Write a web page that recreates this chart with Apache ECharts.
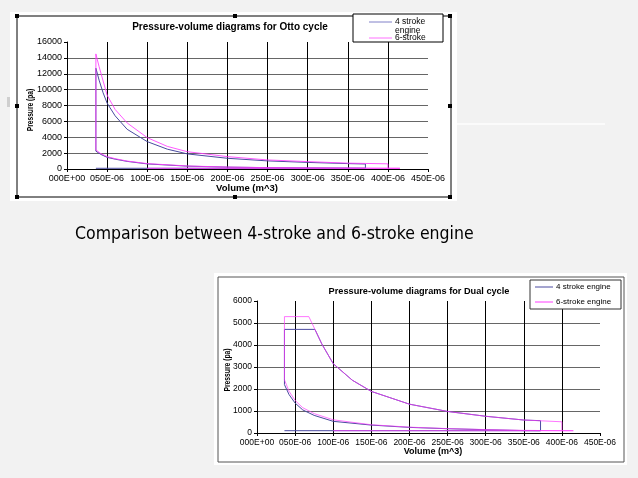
<!DOCTYPE html>
<html>
<head>
<meta charset="utf-8">
<script src="https://cdn.jsdelivr.net/npm/echarts@6/dist/echarts.min.js"></script>
<style>
  html, body { margin: 0; padding: 0; background: #f2f2f2; }
  #main { width: 638px; height: 478px; }
</style>
</head>
<body>
<div id="main"></div>
<script>
// volume in 1E-06 m^3, pressure in pa
const volumeTicks = ['000E+00', '050E-06', '100E-06', '150E-06', '200E-06', '250E-06', '300E-06', '350E-06', '400E-06', '450E-06']
const seriesNames = ['4 stroke engine', '6-stroke engine']

// Otto cycle
const ottoV4 = [36, 372, 350, 300, 250, 200, 150, 100, 75, 60, 50, 42, 36, 36, 40, 45, 50, 60, 75, 100, 125, 150, 200, 250, 300, 350, 372, 372]
const ottoP4 = [90, 90, 105, 130, 170, 235, 360, 640, 960, 1240, 1470, 1850, 2250, 12700, 11200, 9600, 8300, 6700, 5000, 3450, 2500, 1900, 1350, 1020, 830, 680, 630, 90]
const ottoV6 = [100, 415, 400, 350, 300, 250, 200, 150, 100, 75, 60, 50, 42, 36, 36, 40, 45, 50, 60, 75, 100, 125, 150, 200, 250, 300, 350, 400, 400]
const ottoP6 = [90, 90, 90, 110, 135, 175, 245, 380, 680, 1000, 1300, 1560, 1950, 2400, 14500, 12900, 11100, 9300, 7500, 5800, 3950, 2850, 2180, 1560, 1140, 930, 740, 650, 90]

// Dual cycle
const dualV4 = [36, 372, 350, 300, 250, 200, 150, 100, 75, 60, 50, 42, 36, 36, 76, 85, 100, 125, 150, 200, 250, 300, 350, 372, 372]
const dualP4 = [105, 105, 110, 150, 195, 255, 360, 530, 800, 1050, 1360, 1750, 2200, 4710, 4710, 4050, 3150, 2400, 1890, 1310, 980, 760, 590, 560, 105]
const dualV6 = [100, 415, 400, 350, 300, 250, 200, 150, 100, 75, 60, 50, 42, 36, 36, 68, 76, 85, 100, 125, 150, 200, 250, 300, 350, 400, 400]
const dualP6 = [105, 105, 105, 120, 155, 200, 265, 375, 600, 880, 1150, 1480, 1900, 2420, 5290, 5290, 4710, 4050, 3150, 2400, 1890, 1310, 980, 760, 590, 510, 105]

const blue = '#4a4aa0'
const pink = '#ff3cff'
const font = 'Liberation Sans, Arial, sans-serif'

function zip(xs, ys) {
  return xs.map((x, i) => [x, ys[i]])
}

function xAxisFor(gridIndex, fontSize) {
  return {
    type: 'value',
    gridIndex: gridIndex,
    min: 0,
    max: 450,
    interval: 50,
    axisLine: { show: true, lineStyle: { color: '#000', width: 1 } },
    axisTick: { show: true, length: 3, lineStyle: { color: '#000' } },
    axisLabel: {
      color: '#000', fontSize: fontSize, fontFamily: font, margin: 5,
      formatter: v => volumeTicks[Math.round(v / 50)]
    },
    splitLine: { show: true, showMinLine: false, showMaxLine: false, lineStyle: { color: '#000', width: 1 } },
    z: 5
  }
}

function yAxisFor(gridIndex, max, interval, fontSize) {
  return {
    type: 'value',
    gridIndex: gridIndex,
    min: 0,
    max: max,
    interval: interval,
    axisLine: { show: true, lineStyle: { color: '#000', width: 1 } },
    axisTick: { show: true, length: 3, lineStyle: { color: '#000' } },
    axisLabel: { color: '#000', fontSize: fontSize, fontFamily: font, margin: 5, formatter: v => String(v) },
    splitLine: { show: true, showMinLine: false, showMaxLine: false, lineStyle: { color: '#666', width: 1 } },
    z: 5
  }
}

function lineSeries(name, data, color, idx, opacity) {
  return {
    type: 'line',
    name: name,
    xAxisIndex: idx,
    yAxisIndex: idx,
    data: data,
    showSymbol: false,
    symbol: 'none',
    lineStyle: { color: color, width: 1, opacity: opacity },
    itemStyle: { color: color },
    animation: false,
    z: 6
  }
}

// resize handles round the selected top chart
const handles = []
;[17, 235, 450].forEach(x => {
  ;[16, 106, 197].forEach(y => {
    if (x === 235 && y === 106) return
    handles.push({ type: 'rect', shape: { x: x - 2, y: y - 2, width: 4, height: 4 }, style: { fill: '#000' }, z: 20 })
  })
})

const txt = (x, y, text, size, opts) => Object.assign({
  type: 'text', x: x, y: y, z: 20,
  style: Object.assign({ text: text, fill: '#000', font: size + 'px ' + font, align: 'left', verticalAlign: 'middle' }, (opts && opts.style) || {})
}, opts && opts.el || {})

const myChart = echarts.init(document.getElementById('main'))
myChart.setOption({
  backgroundColor: '#f2f2f2',
  animation: false,
  grid: [
    { left: 67, top: 42, width: 361, height: 127 },
    { left: 257, top: 301, width: 343, height: 132 }
  ],
  xAxis: [xAxisFor(0, 9), xAxisFor(1, 8.5)],
  yAxis: [yAxisFor(0, 16000, 2000, 9), yAxisFor(1, 6000, 1000, 8.5)],
  series: [
    lineSeries(seriesNames[0], zip(ottoV4, ottoP4), blue, 0, 1),
    lineSeries(seriesNames[1], zip(ottoV6, ottoP6), pink, 0, 0.85),
    lineSeries(seriesNames[0], zip(dualV4, dualP4), blue, 1, 1),
    lineSeries(seriesNames[1], zip(dualV6, dualP6), pink, 1, 0.7)
  ],
  graphic: [
    // slide pieces
    { type: 'rect', shape: { x: 10, y: 12, width: 447, height: 189 }, style: { fill: '#fff' }, z: -1 },
    { type: 'rect', shape: { x: 214, y: 273, width: 413, height: 192 }, style: { fill: '#fff' }, z: -1 },
    { type: 'rect', shape: { x: 457, y: 123, width: 148, height: 2 }, style: { fill: '#fbfbfb' }, z: -1 },
    { type: 'rect', shape: { x: 7, y: 97, width: 3, height: 10 }, style: { fill: '#cfcfcf' }, z: -1 },
    { type: 'rect', shape: { x: 17, y: 16, width: 434, height: 181 }, style: { fill: 'none', stroke: '#000', lineWidth: 1 }, z: 19 },
    { type: 'rect', shape: { x: 218, y: 277, width: 406, height: 185 }, style: { fill: 'none', stroke: '#555', lineWidth: 1 }, z: 19 },
    ...handles,
    txt(75, 234, 'Comparison between 4-stroke and 6-stroke engine', 17.5, { style: { font: '17.5px DejaVu Sans Condensed, Open Sans, sans-serif' } }),

    // Otto chart texts
    txt(230, 27, 'Pressure-volume diagrams for Otto cycle', 10, { style: { font: 'bold 10px ' + font, align: 'center' } }),
    txt(247, 188, 'Volume (m^3)', 9.5, { style: { font: 'bold 9.5px ' + font, align: 'center' } }),
    txt(30, 110, 'Pressure (pa)', 9.5, { style: { font: 'bold 9.5px ' + font, align: 'center' }, el: { rotation: Math.PI / 2, scaleX: 0.7 } }),
    { type: 'rect', shape: { x: 353, y: 14, width: 90, height: 28 }, style: { fill: '#fff', stroke: '#000', lineWidth: 1 }, z: 19 },
    { type: 'line', shape: { x1: 369, y1: 22, x2: 392, y2: 22 }, style: { stroke: '#8080c8', lineWidth: 1 }, z: 20 },
    { type: 'line', shape: { x1: 369, y1: 38, x2: 392, y2: 38 }, style: { stroke: '#ff70ff', lineWidth: 1 }, z: 20 },
    txt(395, 22, '4 stroke', 8.5),
    txt(395, 31, 'engine', 8.5),
    txt(395, 38, '6-stroke', 8.5),

    // Dual chart texts
    txt(419, 291, 'Pressure-volume diagrams for Dual cycle', 9.2, { style: { font: 'bold 9.2px ' + font, align: 'center' } }),
    txt(433, 452, 'Volume (m^3)', 9, { style: { font: 'bold 9px ' + font, align: 'center' } }),
    txt(228, 370, 'Pressure (pa)', 9, { style: { font: 'bold 9px ' + font, align: 'center' }, el: { rotation: Math.PI / 2, scaleX: 0.75 } }),
    { type: 'rect', shape: { x: 530, y: 280, width: 91, height: 29 }, style: { fill: '#fff', stroke: '#333', lineWidth: 1 }, z: 19 },
    { type: 'line', shape: { x1: 535, y1: 287, x2: 553, y2: 287 }, style: { stroke: blue, lineWidth: 1 }, z: 20 },
    { type: 'line', shape: { x1: 535, y1: 302, x2: 553, y2: 302 }, style: { stroke: pink, lineWidth: 1 }, z: 20 },
    txt(556, 287, '4 stroke engine', 8),
    txt(556, 302, '6-stroke engine', 8)
  ]
})
window.onresize = function () {
  myChart.resize()
}
</script>
</body>
</html>
